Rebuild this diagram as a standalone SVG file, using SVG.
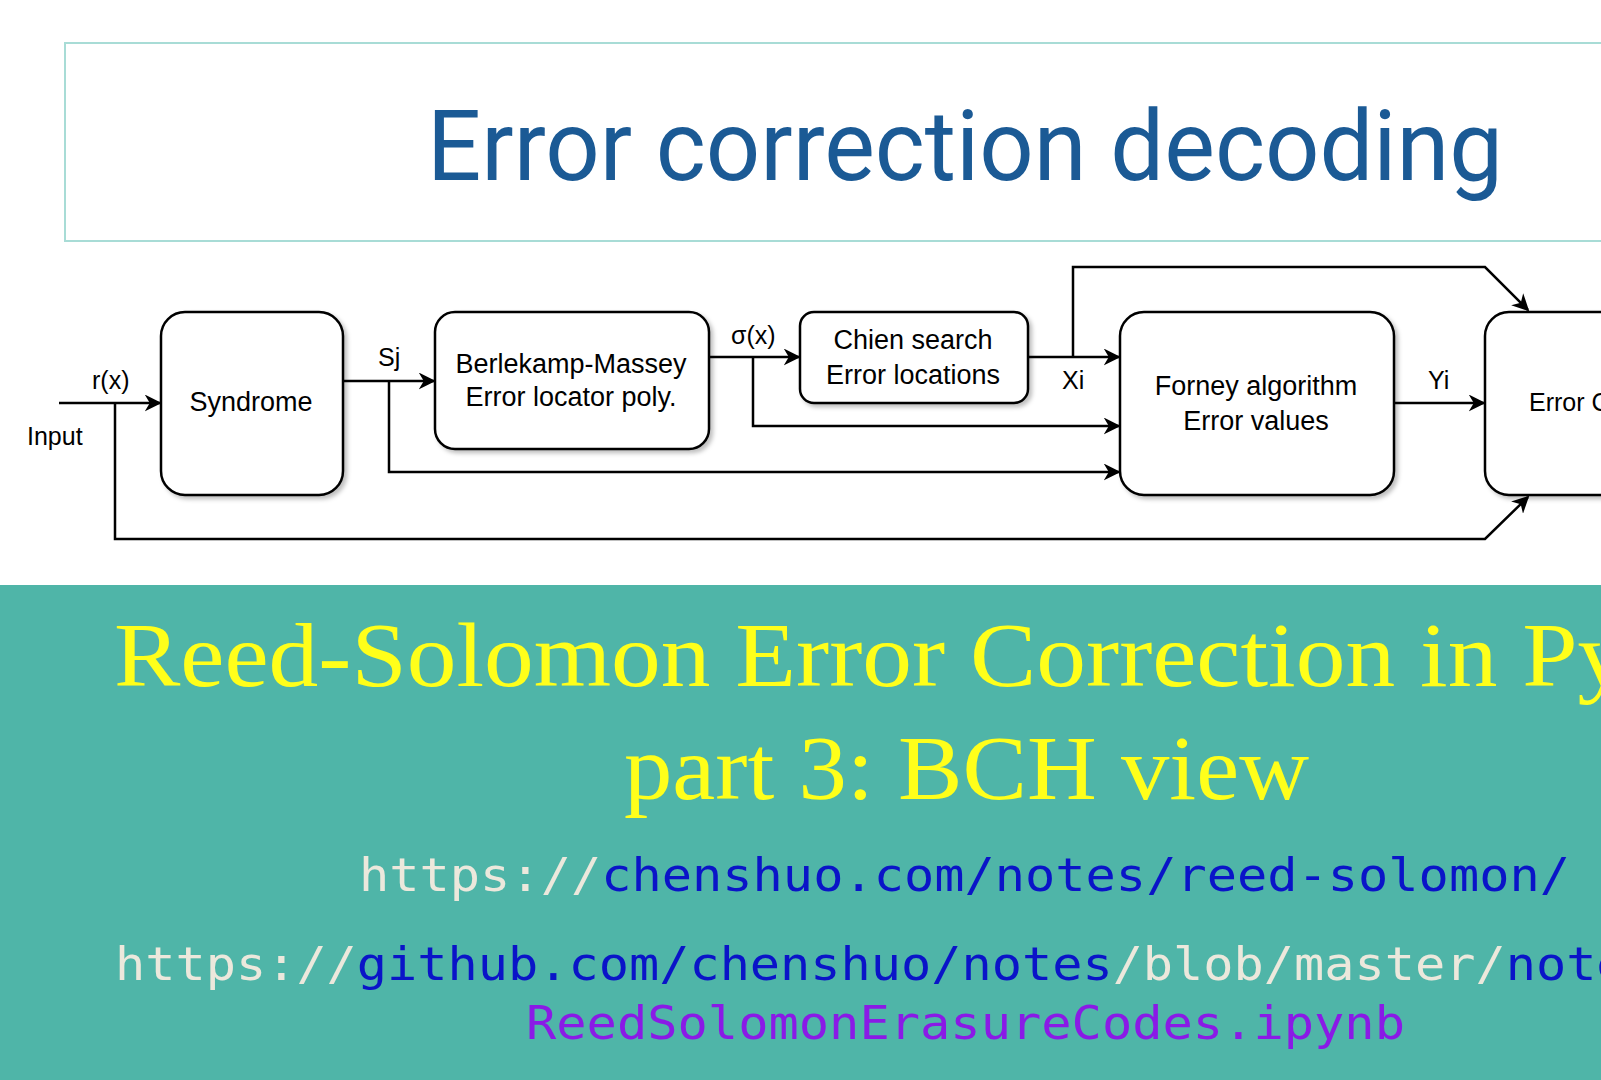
<svg xmlns="http://www.w3.org/2000/svg" width="1601" height="1080" viewBox="0 0 1601 1080">
<defs>
<marker id="ah" viewBox="0 0 10 10" refX="9" refY="5" markerWidth="17" markerHeight="17" markerUnits="userSpaceOnUse" orient="auto"><path d="M0,0 L10,5 L0,10 L3,5 z" fill="#000"/></marker>
<filter id="sh" x="-10%" y="-10%" width="130%" height="130%"><feDropShadow dx="3" dy="3" stdDeviation="2" flood-color="#000" flood-opacity="0.25"/></filter>
</defs>
<style>
.box{fill:#fff;stroke:#000;stroke-width:2.5;filter:url(#sh)}
.t{font-family:"Liberation Sans",Arial,sans-serif;font-size:27px;text-anchor:middle;fill:#000}
.l{font-family:"Liberation Sans",Arial,sans-serif;font-size:25px;fill:#000}
.c{fill:none;stroke:#000;stroke-width:2.5;marker-end:url(#ah)}
.m{font-family:"DejaVu Sans Mono","Liberation Mono",monospace;font-size:46px}
.w{fill:#ece8dc}.b{fill:#0a14c8}
</style>
<rect width="1601" height="1080" fill="#fff"/>
<rect x="65" y="43" width="1560" height="198" fill="#fff" stroke="#a8dcd6" stroke-width="2"/>
<text x="427" y="180" font-family="Roboto,sans-serif" font-size="98" fill="#1b5a95" textLength="1076" lengthAdjust="spacingAndGlyphs">Error correction decoding</text>

<g id="connectors">
<line class="c" x1="59" y1="403" x2="160" y2="403"/>
<path class="c" d="M115,403 V539 H1485 L1528,497"/>
<line class="c" x1="343" y1="381" x2="434" y2="381"/>
<path class="c" d="M389,381 V472 H1119"/>
<line class="c" x1="709" y1="357" x2="799" y2="357"/>
<path class="c" d="M753,357 V426 H1119"/>
<line class="c" x1="1028" y1="357" x2="1119" y2="357"/>
<path class="c" d="M1073,357 V267 H1485 L1528,310"/>
<line class="c" x1="1394" y1="403" x2="1484" y2="403"/>
<text class="l" x="92" y="389">r(x)</text>
<text class="l" x="27" y="445">Input</text>
<text class="l" x="378" y="366">Sj</text>
<text class="l" x="731" y="344">σ(x)</text>
<text class="l" x="1062" y="389">Xi</text>
<text class="l" x="1428" y="389">Yi</text>
</g>
<g id="syndrome"><rect class="box" x="161" y="312" width="182" height="183" rx="24"/><text class="t" x="251" y="411">Syndrome</text></g>
<g id="bm"><rect class="box" x="435" y="312" width="274" height="137" rx="20"/><text class="t" x="571" y="373">Berlekamp-Massey</text><text class="t" x="571" y="406">Error locator poly.</text></g>
<g id="chien"><rect class="box" x="800" y="312" width="228" height="91" rx="14"/><text class="t" x="913" y="349">Chien search</text><text class="t" x="913" y="384">Error locations</text></g>
<g id="forney"><rect class="box" x="1120" y="312" width="274" height="183" rx="24"/><text class="t" x="1256" y="395">Forney algorithm</text><text class="t" x="1256" y="430">Error values</text></g>
<g id="errcorr"><rect class="box" x="1485" y="312" width="200" height="183" rx="24"/><text class="l" x="1529" y="411" font-size="27">Error Correction</text></g>

<rect x="0" y="585" width="1601" height="495" fill="#4fb5a8"/>
<g font-family="'Liberation Serif','Times New Roman',serif" font-size="92" fill="#ffff1a">
<text x="114" y="686" textLength="1690" lengthAdjust="spacingAndGlyphs">Reed-Solomon Error Correction in Python</text>
<text x="624" y="799" textLength="685" lengthAdjust="spacingAndGlyphs">part 3: BCH view</text>
</g>
<text class="m" x="359" y="891" textLength="1211" lengthAdjust="spacingAndGlyphs"><tspan class="w">https://</tspan><tspan class="b">chenshuo.com/notes/reed-solomon/</tspan></text>
<text class="m" x="115" y="980" textLength="1693" lengthAdjust="spacingAndGlyphs"><tspan class="w">https://</tspan><tspan class="b">github.com/chenshuo/notes</tspan><tspan class="w">/blob/master/</tspan><tspan class="b">notebooks/</tspan></text>
<text class="m" x="526" y="1039" fill="#8a1ae6" textLength="879" lengthAdjust="spacingAndGlyphs">ReedSolomonErasureCodes.ipynb</text>
</svg>
